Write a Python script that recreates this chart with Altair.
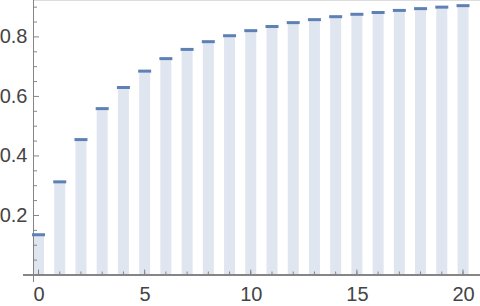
import altair as alt
import pandas as pd

n_values = list(range(21))
y_values = [0.135, 0.313, 0.455, 0.559, 0.630, 0.685, 0.727, 0.758, 0.784, 0.804,
            0.821, 0.835, 0.848, 0.858, 0.868, 0.876, 0.882, 0.889, 0.895, 0.900, 0.905]
x_major_ticks = [0, 5, 10, 15, 20]
x_minor_ticks = list(range(21))
y_major_ticks = [0.2, 0.4, 0.6, 0.8]
y_minor_ticks = [0.05, 0.1, 0.15, 0.25, 0.3, 0.35, 0.45, 0.5, 0.55, 0.65, 0.7, 0.75, 0.85, 0.9]

W, H = 447, 275
BLUE = "#5E81B5"
FILL = "#DFE6F0"
AXIS = "#858585"
LABEL = "#444444"
FONT = "Liberation Sans"

df = pd.DataFrame({"n": n_values, "v": y_values})
xs = alt.Scale(domain=[-0.26, 20.8], nice=False, zero=False)
ys = alt.Scale(domain=[0, 0.924], nice=False, zero=False)

xaxis = alt.Axis(values=x_major_ticks, ticks=False, domain=False, grid=False,
                 labelFontSize=20, labelColor=LABEL, labelFont=FONT,
                 labelPadding=9, title=None, labelFlush=False)
yaxis = alt.Axis(values=y_major_ticks, ticks=False, domain=False, grid=False,
                 labelFontSize=20, labelColor=LABEL, labelFont=FONT, format=".1f",
                 labelPadding=6, title=None, labelFlush=False)


def X(f):
    return alt.X(f, scale=xs, axis=xaxis, title=None)


def Y(f):
    return alt.Y(f, scale=ys, axis=yaxis, title=None)


bars = alt.Chart(df).mark_rule(strokeWidth=11, color=FILL, strokeCap="butt").encode(
    x=X("n:Q"), y=Y("v:Q"), y2=alt.datum(0),
)

marks = alt.Chart(df).mark_tick(orient="horizontal", size=13, thickness=3, color=BLUE, opacity=1).encode(
    x=X("n:Q"), y=Y("v:Q")
)

xaxis_line = alt.Chart(df).mark_rule(color=AXIS, strokeWidth=1).encode(
    y=alt.datum(0), x=alt.value(-10), x2=alt.value(W)
)
yaxis_line = alt.Chart(df).mark_rule(color=AXIS, strokeWidth=1).encode(
    x=alt.value(0.5), y=alt.value(0), y2=alt.value(H + 7)
)

xmin_df = pd.DataFrame({"n": x_minor_ticks})
xmaj_df = pd.DataFrame({"n": x_major_ticks})
ymin_df = pd.DataFrame({"v": y_minor_ticks})
ymaj_df = pd.DataFrame({"v": y_major_ticks})

xminor = alt.Chart(xmin_df).mark_rule(color=AXIS, strokeWidth=1).encode(
    x=X("n:Q"), y=alt.value(H), y2=alt.value(H - 3.5)
)
xmajor = alt.Chart(xmaj_df).mark_rule(color=AXIS, strokeWidth=1).encode(
    x=X("n:Q"), y=alt.value(H), y2=alt.value(H - 5.5)
)
yminor = alt.Chart(ymin_df).mark_rule(color=AXIS, strokeWidth=1).encode(
    y=Y("v:Q"), x=alt.value(0.5), x2=alt.value(4)
)
ymajor = alt.Chart(ymaj_df).mark_rule(color=AXIS, strokeWidth=1).encode(
    y=Y("v:Q"), x=alt.value(0.5), x2=alt.value(6)
)

chart = alt.layer(bars, xaxis_line, yaxis_line, xminor, xmajor, yminor, ymajor, marks).properties(
    width=W, height=H,
    autosize=alt.AutoSizeParams(type="none"),
    padding={"left": 33, "top": 0, "right": 0, "bottom": 31},
).configure_view(stroke="transparent", strokeWidth=0).configure(background="white")

chart.save("out.html", embed_options={"renderer": "svg", "actions": False})
